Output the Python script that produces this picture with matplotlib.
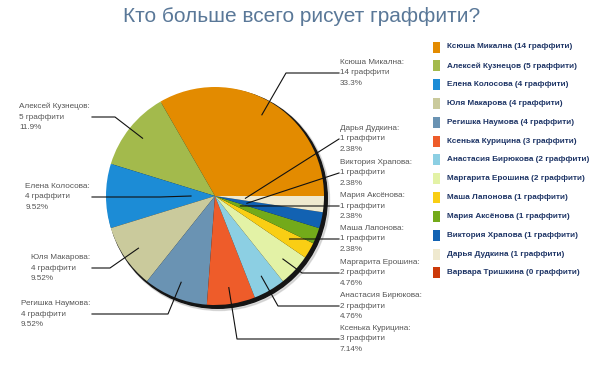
import matplotlib
matplotlib.use("Agg")
import matplotlib.pyplot as plt
from matplotlib.patches import Circle, Rectangle
import numpy as np

# данные
names = ["Ксюша Микална", "Алексей Кузнецов", "Елена Колосова", "Юля Макарова",
         "Регишка Наумова", "Ксенька Курицина", "Анастасия Бирюкова",
         "Маргарита Ерошина", "Маша Лапонова", "Мария Аксёнова",
         "Виктория Храпова", "Дарья Дудкина", "Варвара Тришкина"]
counts = [14, 5, 4, 4, 4, 3, 2, 2, 1, 1, 1, 1, 0]
colors = ["#E38B00", "#A3BA4C", "#1C8CD6", "#CACA9C", "#6A93B3", "#EE5C2A",
          "#8CCFE3", "#E3F2A6", "#F9CE14", "#73AA1A", "#1262B2", "#EFE9CF",
          "#CC3A0A"]

W, H = 604, 378
cx, cy, R = 215, H - 196, 109

def py(y):
    return H - y

fig = plt.figure(figsize=(W / 100, H / 100), dpi=100)
ax = fig.add_axes([0, 0, 1, 1])

# тень
ax.add_patch(Circle((cx + 4, cy - 4), R + 1.5, color="#bbbbbb", alpha=0.5, zorder=1))
ax.add_patch(Circle((cx + 2.5, cy - 2.5), R + 0.8, color="#151515", zorder=2))

# пирог (нулевой сектор не рисуется)
vals = [c for c in counts if c > 0]
wedges, _ = ax.pie(vals, colors=colors[:len(vals)], startangle=0, counterclock=True,
                   center=(cx, cy), radius=R, wedgeprops=dict(linewidth=0))
for w in wedges:
    w.set_zorder(3)

ax.set_xlim(0, W)
ax.set_ylim(0, H)
ax.set_aspect("equal")
ax.axis("off")

total = sum(counts)

# подписи: (x текста, y средней строки, сторона, x излома, доля радиуса якоря)
layout = [
    (340, 73, "r", 286, 0.86),
    (92, 117, "l", 115, 0.85),
    (92, 197, "l", 160, 0.22),
    (92, 268, "l", 110, 0.85),
    (92, 314, "l", 168, 0.85),
    (340, 339, "r", 237, 0.85),
    (340, 306, "r", 278, 0.85),
    (340, 273, "r", 302, 0.85),
    (340, 239, "r", 290, 0.79),
    (340, 206, "r", 300, 0.25),
    (340, 173, "r", 339, 0.30),
    (340, 139, "r", 339, 0.28),
]

for i, w in enumerate(wedges):
    tx, ty, side, ex, rf = layout[i]
    ang = np.deg2rad((w.theta1 + w.theta2) / 2)
    axx = cx + rf * R * np.cos(ang)
    ayy = cy + rf * R * np.sin(ang)
    pct = counts[i] / total * 100
    label = f"{names[i]}:\n{counts[i]} граффити\n{pct:.3g}%"
    if side == "r":
        ax.plot([axx, ex, tx - 1], [ayy, py(ty), py(ty)], color="#111111", lw=0.8, zorder=5)
        ax.text(tx, py(ty), label, ha="left", va="center", fontsize=5.9,
                family="Liberation Sans", color="#555555", linespacing=1.75, zorder=6)
    else:
        ax.plot([axx, ex, tx], [ayy, py(ty), py(ty)], color="#111111", lw=0.8, zorder=5)
        ax.text(tx - 2, py(ty), label, ha="right", va="center", multialignment="left",
                fontsize=5.9, family="Liberation Sans", color="#555555",
                linespacing=1.75, zorder=6)

# легенда
for i, (n, c, col) in enumerate(zip(names, counts, colors)):
    yy = py(47 + i * 18.83)
    ax.add_patch(Rectangle((433, yy - 5.5), 7, 11, color=col, lw=0))
    ax.text(447, yy, f"{n} ({c} граффити)", ha="left", va="center", fontsize=5.9,
            fontweight="bold", family="Liberation Sans", color="#1E3566")

# заголовок
ax.text(302, py(17), "Кто больше всего рисует граффити?", ha="center", va="center",
        fontsize=15, family="Liberation Sans", color="#5A7898")

fig.savefig("out.png", dpi=100)
plt.close()
